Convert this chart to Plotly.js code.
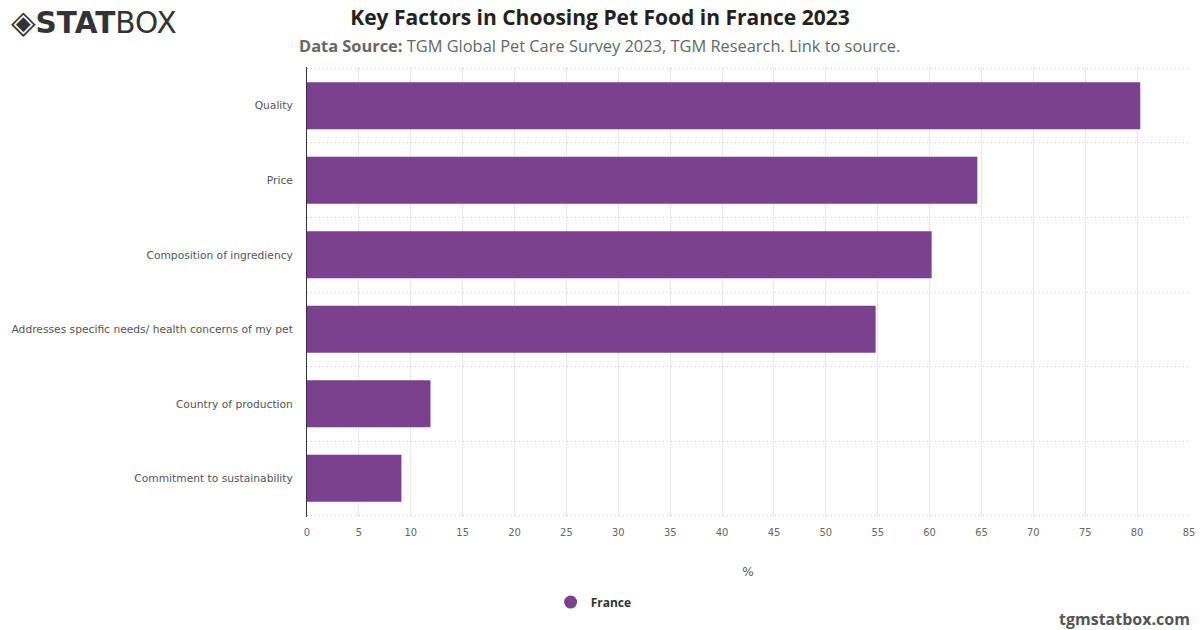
<!DOCTYPE html>
<html><head><meta charset="utf-8">
<script src="https://cdn.plot.ly/plotly-3.0.1.min.js"></script>
<style>html,body{margin:0;padding:0;background:#fff}#chart{width:1200px;height:630px}</style>
</head><body><div id="chart"></div>
<script>
const categories = ["Quality","Price","Composition of ingrediency","Addresses specific needs/ health concerns of my pet","Country of production","Commitment to sustainability"];
const values = [80.3, 64.6, 60.2, 54.8, 11.9, 9.1];
const seriesName = "France";
const xTicks = [0,5,10,15,20,25,30,35,40,45,50,55,60,65,70,75,80,85];

const idx = categories.map((c,i)=>i);
const bounds = idx.map(i=>i-0.5).concat([idx.length-0.5]);
const trace = {
  type:'bar', orientation:'h', x: values, y: idx, name: seriesName,
  marker:{color:'#7b418f'}, hoverinfo:'x+y', showlegend:false
};
const legendTrace = {
  type:'scatter', mode:'markers', x:[null], y:[null], name: '<b>' + seriesName + '</b>',
  marker:{color:'#7b418f', size:13, symbol:'circle'}, showlegend:true
};
const layout = {
  width:1200, height:630, paper_bgcolor:'#fff', plot_bgcolor:'#fff',
  margin:{l:307, r:11, t:67, b:113},
  font:{family:'"DejaVu Sans", sans-serif', color:'#555', size:11},
  bargap:0.37,
  xaxis:{range:[0,85], tickvals:xTicks, showgrid:true, gridcolor:'#e6e6e6', gridwidth:1,
    zeroline:false, showline:false, ticks:'', ticklen:0, ticklabelstandoff:7,
    tickfont:{size:11, color:'#666', family:'"DejaVu Sans Condensed", "DejaVu Sans", sans-serif'},
    title:{text:'%', font:{size:12, color:'#555'}, standoff:29}},
  yaxis:{range:[5.52,-0.52], tickvals:idx, ticktext:categories, showgrid:false, zeroline:false,
    showline:true, linecolor:'#333', linewidth:1, ticks:'', ticklen:0, ticklabelstandoff:11,
    tickfont:{size:10.7, color:'#555'},
    minor:{tickmode:'array', tickvals:bounds, showgrid:true, griddash:'1px,3px', gridcolor:'#cccccc', gridwidth:1, ticks:''}},
  showlegend:true,
  legend:{orientation:'h', x:0.325, xanchor:'center', y:-0.189, yanchor:'middle',
    font:{size:12, color:'#333', family:'"Open Sans", sans-serif'}},
  title:{text:'<b>Key Factors in Choosing Pet Food in France 2023</b>', x:0.5, xanchor:'center', y:0.972, yanchor:'middle',
    font:{size:21, color:'#222', family:'"Open Sans", sans-serif'}},
  annotations:[
    {xref:'paper', yref:'paper', x:0.332, y:1, yshift:-45+67, xanchor:'center', yanchor:'middle', showarrow:false,
     text:'<b>Data Source:</b> TGM Global Pet Care Survey 2023, TGM Research. Link to source.',
     font:{size:16.4, color:'#666', family:'"Open Sans", sans-serif'}},
    {xref:'paper', yref:'paper', x:0, xshift:-298, y:1, yshift:45, xanchor:'left', yanchor:'middle', showarrow:false,
     text:'<span style="font-size:32px">◈</span><b>STAT</b>BOX',
     font:{size:29.5, color:'#333', family:'"DejaVu Sans", sans-serif'}},
    {xref:'paper', yref:'paper', x:1, xshift:3, y:0, yshift:-102, xanchor:'right', yanchor:'middle', showarrow:false,
     text:'<b>tgmstatbox.com</b>', font:{size:16, color:'#555', family:'"Open Sans", sans-serif'}}
  ]
};
Plotly.newPlot('chart',[trace, legendTrace],layout,{displayModeBar:false, staticPlot:true});
</script></body></html>
